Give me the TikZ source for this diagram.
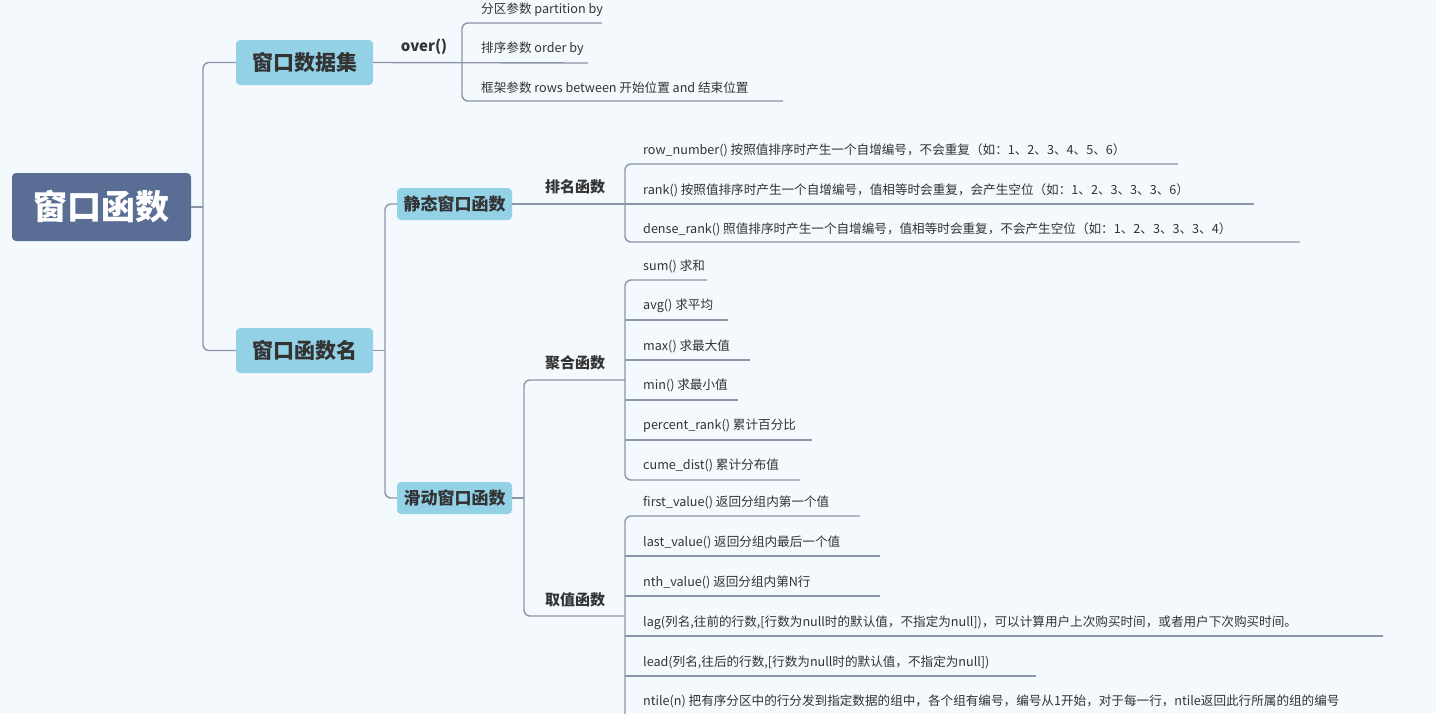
\documentclass[tikz,border=0pt]{standalone}
\usepackage{fontspec}
\setmainfont{Noto Sans CJK SC}
\definecolor{bg}{HTML}{F4F9FD}
\definecolor{rootc}{HTML}{5A6D95}
\definecolor{subc}{HTML}{93D1E7}
\definecolor{lnc}{HTML}{8C96A8}
\definecolor{txt}{HTML}{333333}
\tikzset{
 ln/.style={draw=lnc,line width=1.4pt,rounded corners=6pt},
 rootbox/.style={fill=rootc,rounded corners=4pt,minimum width=179pt,minimum height=68pt,text=white,font=\fontsize{34}{38}\selectfont\bfseries},
 subbox/.style={fill=subc,rounded corners=4pt,minimum width=137pt,minimum height=45pt,text=txt,font=\fontsize{21}{24}\selectfont\bfseries},
 subbox2/.style={fill=subc,rounded corners=4pt,minimum width=115pt,minimum height=32pt,text=txt,font=\fontsize{17}{20}\selectfont\bfseries},
 lab/.style={text=txt,font=\fontsize{15}{17}\selectfont\bfseries},
 leaf/.style={text=txt,anchor=base west,inner sep=0pt,font=\fontsize{12.6}{14}\selectfont},
}
\begin{document}
\begin{tikzpicture}[x=1pt,y=-1pt]
\fill[bg] (0,0) rectangle (1436,713);
\useasboundingbox (0,0) rectangle (1436,713);
\clip (0,0) rectangle (1436,713);
\node[rootbox] (root) at (101.5,207) {窗口函数};
\node[subbox] (ds) at (304.5,62.5) {窗口数据集};
\node[subbox] (fn) at (304.5,350.5) {窗口函数名};
\node[subbox2] (st) at (454.5,204) {静态窗口函数};
\node[subbox2] (sl) at (454.5,498) {滑动窗口函数};
\coordinate (r1) at (203,207);
\draw[ln] (root.east) -- (r1);
\draw[ln] (ds.west) -- (203,62.5) -- (203,350.5) -- (fn.west);
% over
\node[lab] (over) at (424,47) {over()};
\draw[ln] (ds.east) -- (588,63);
\draw[ln] (602,23) -- (462,23) -- (462,101) -- (783,101);
\node[leaf] (o1) at (481,13) {分区参数 partition by};
\node[leaf] (o2) at (481,52) {排序参数 order by};
\node[leaf] (o3) at (481,92) {框架参数 rows between 开始位置 and 结束位置};
% fn
\draw[ln] (st.west) -- (385,204) -- (385,498) -- (sl.west);
\draw[ln] (fn.east) -- (385,350.5);
% ranking
\node[lab] (pm) at (575,187) {排名函数};
\draw[ln] (st.east) -- (1254,204);
\draw[ln] (1178,164) -- (625,164) -- (625,242) -- (1300,242);
\node[leaf] (a1) at (643,154) {row\_number() 按照值排序时产生一个自增编号，不会重复（如：1、2、3、4、5、6）};
\node[leaf] (a2) at (643,194) {rank() 按照值排序时产生一个自增编号，值相等时会重复，会产生空位（如：1、2、3、3、3、6）};
\node[leaf] (a3) at (643,233) {dense\_rank() 照值排序时产生一个自增编号，值相等时会重复，不会产生空位（如：1、2、3、3、3、4）};
% sliding
\draw[ln] (625,380) -- (524,380) -- (524,616) -- (625,616);
\draw[ln] (sl.east) -- (524,498);
\node[lab] (jh) at (575,363) {聚合函数};
\node[lab] (qz) at (575,600) {取值函数};
\draw[ln] (707,280) -- (625,280) -- (625,480) -- (800,480);
\draw[ln] (625,320) -- (728,320);
\draw[ln] (625,360) -- (750,360);
\draw[ln] (625,400) -- (738,400);
\draw[ln] (625,440) -- (812,440);
\node[leaf] (b1) at (643,270) {sum() 求和};
\node[leaf] (b2) at (643,309) {avg() 求平均};
\node[leaf] (b3) at (643,350) {max() 求最大值};
\node[leaf] (b4) at (643,389) {min() 求最小值};
\node[leaf] (b5) at (643,429) {percent\_rank() 累计百分比};
\node[leaf] (b6) at (643,469) {cume\_dist() 累计分布值};
\draw[ln] (860,516) -- (625,516) -- (625,730);
\draw[ln] (625,556) -- (880,556);
\draw[ln] (625,596) -- (880,596);
\draw[ln] (625,636) -- (1383,636);
\draw[ln] (625,676) -- (1036,676);
\node[leaf] (c1) at (643,506) {first\_value() 返回分组内第一个值};
\node[leaf] (c2) at (643,546) {last\_value() 返回分组内最后一个值};
\node[leaf] (c3) at (643,586) {nth\_value() 返回分组内第N行};
\node[leaf] (c4) at (643,626) {lag(列名,往前的行数,[行数为null时的默认值，不指定为null])，可以计算用户上次购买时间，或者用户下次购买时间。};
\node[leaf] (c5) at (643,666) {lead(列名,往后的行数,[行数为null时的默认值，不指定为null])};
\node[leaf] (c6) at (643,705) {ntile(n) 把有序分区中的行分发到指定数据的组中，各个组有编号，编号从1开始，对于每一行，ntile返回此行所属的组的编号};
\end{tikzpicture}
\end{document}
